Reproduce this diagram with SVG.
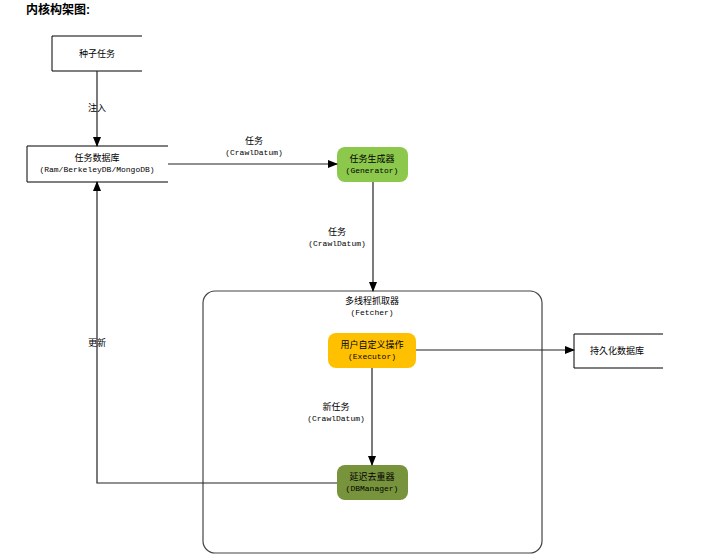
<svg xmlns="http://www.w3.org/2000/svg" width="702" height="558" viewBox="0 0 702 558">
<style>
text{font-family:"Liberation Sans","Noto Sans CJK SC",sans-serif;font-size:9px;fill:#000;text-anchor:middle}
.sub{font-family:"Liberation Mono","Noto Sans CJK SC",monospace;font-size:8px}
.ln{stroke:#000;stroke-width:1;fill:none}
.c{stroke:#222;stroke-width:1.2;fill:none}
</style>
<defs><marker id="a" markerWidth="10" markerHeight="8" refX="9" refY="4" orient="auto" markerUnits="userSpaceOnUse"><path d="M0,0L10,4L0,8z" fill="#000"/></marker></defs>
<text x="26" y="14" style="font-size:12px;font-weight:bold;text-anchor:start">内核构架图:</text>
<g id="fetcher"><rect x="203" y="291" width="339" height="262" rx="12" fill="#fff" stroke="#444" stroke-width="1.2"/><text x="372" y="304">多线程抓取器</text><text class="sub" x="372" y="315">(Fetcher)</text></g>
<g id="seed"><path class="ln" d="M142,36H52V71H142"/><text x="97" y="57">种子任务</text></g>
<g id="taskdb"><path class="ln" d="M168,146H27V182H168"/><text x="97" y="161">任务数据库</text><text class="sub" x="97" y="172">(Ram/BerkeleyDB/MongoDB)</text></g>
<g id="generator"><rect x="337" y="147" width="71" height="35" rx="8" fill="#8cc84b"/><text x="372" y="162">任务生成器</text><text class="sub" x="372" y="173">(Generator)</text></g>
<g id="executor"><rect x="328" y="333" width="88" height="35" rx="8" fill="#ffc000"/><text x="372" y="348">用户自定义操作</text><text class="sub" x="372" y="359">(Executor)</text></g>
<g id="dbmanager"><rect x="337" y="465" width="71" height="35" rx="8" fill="#77933c"/><text x="372" y="480">延迟去重器</text><text class="sub" x="372" y="491">(DBManager)</text></g>
<g id="persist"><path class="ln" d="M663,334H574V368H663"/><text x="617" y="354">持久化数据库</text></g>
<g id="connectors">
<path class="c" d="M97,71V146" marker-end="url(#a)"/><text x="97" y="111">注入</text>
<path class="c" d="M168,164H337" marker-end="url(#a)"/><text x="254" y="144">任务</text><text class="sub" x="254" y="155">(CrawlDatum)</text>
<path class="c" d="M373,182V291" marker-end="url(#a)"/><text x="337" y="235">任务</text><text class="sub" x="337" y="246">(CrawlDatum)</text>
<path class="c" d="M416,350H574" marker-end="url(#a)"/>
<path class="c" d="M372,368V465" marker-end="url(#a)"/><text x="336" y="410">新任务</text><text class="sub" x="336" y="421">(CrawlDatum)</text>
<path class="c" d="M337,483H97V182" marker-end="url(#a)"/><text x="97" y="346">更新</text>
</g>
</svg>
